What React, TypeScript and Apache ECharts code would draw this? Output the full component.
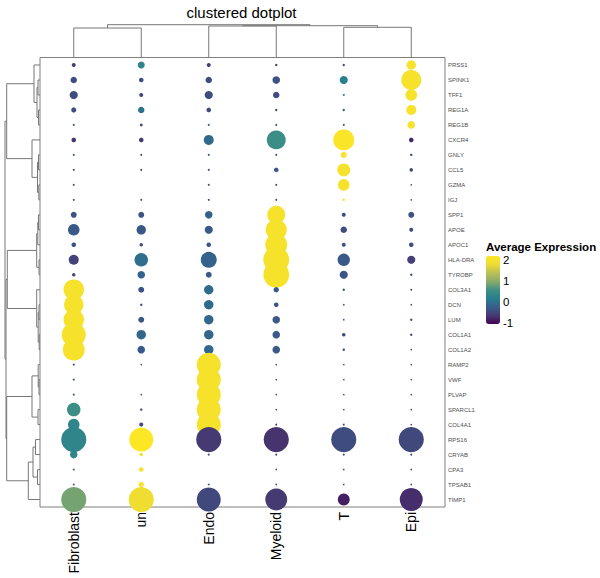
import React, { useEffect, useRef } from 'react';
import * as echarts from 'echarts';

const FONT = 'Liberation Sans, Arial, sans-serif';

const genes = [
  'PRSS1', 'SPINK1', 'TFF1', 'REG1A', 'REG1B', 'CXCR4', 'GNLY', 'CCL5', 'GZMA', 'IGJ',
  'SPP1', 'APOE', 'APOC1', 'HLA-DRA', 'TYROBP', 'COL3A1', 'DCN', 'LUM', 'COL1A1', 'COL1A2',
  'RAMP2', 'VWF', 'PLVAP', 'SPARCL1', 'COL4A1', 'RPS16', 'CRYAB', 'CPA3', 'TPSAB1', 'TIMP1',
];

const clusters = ['Fibroblast', 'un', 'Endo', 'Myeloid', 'T', 'Epi'];

// Average (scaled) expression, one row per gene, columns follow `clusters`
const avgExp: number[][] = [
  [-0.6, 0.3, -0.6, -0.6, -0.5, 2.04],
  [-0.45, -0.45, -0.45, -0.4, 0.2, 2.0],
  [-0.45, -0.5, -0.45, -0.45, -0.1, 2.0],
  [-0.45, 0.0, -0.5, -0.45, -0.3, 2.0],
  [-0.4, -0.4, -0.4, -0.4, -0.4, 2.0],
  [-0.7, -0.65, -0.1, 0.5, 2.1, -0.8],
  [-0.4, -0.4, -0.4, -0.4, 2.0, -0.4],
  [-0.45, -0.5, -0.45, -0.35, 2.0, -0.4],
  [-0.4, -0.4, -0.4, -0.4, 2.0, -0.4],
  [-0.4, -0.4, -0.4, -0.4, 2.0, -0.4],
  [-0.4, -0.35, -0.2, 2.0, -0.45, -0.4],
  [-0.3, -0.3, -0.3, 2.0, -0.45, -0.45],
  [-0.4, -0.45, -0.35, 2.0, -0.4, -0.4],
  [-0.55, -0.05, -0.2, 2.0, -0.3, -0.6],
  [-0.45, -0.2, -0.3, 2.0, -0.35, -0.45],
  [2.0, -0.4, -0.1, -0.3, -0.45, -0.45],
  [2.0, -0.45, -0.1, -0.35, -0.45, -0.45],
  [2.0, -0.35, -0.15, -0.3, -0.45, -0.4],
  [2.0, -0.15, -0.15, -0.3, -0.5, -0.45],
  [2.0, -0.3, -0.15, -0.3, -0.45, -0.45],
  [-0.4, -0.4, 2.0, -0.4, -0.4, -0.4],
  [-0.4, -0.4, 2.0, -0.4, -0.4, -0.4],
  [-0.4, -0.4, 2.0, -0.4, -0.4, -0.4],
  [0.5, -0.5, 2.0, -0.6, -0.55, -0.6],
  [0.3, -0.5, 2.0, -0.6, -0.55, -0.6],
  [0.3, 2.2, -0.65, -0.7, -0.45, -0.5],
  [0.3, 2.0, -0.5, -0.5, -0.5, -0.5],
  [-0.4, 2.0, -0.4, -0.4, -0.4, -0.4],
  [-0.4, 2.0, -0.4, -0.4, -0.4, -0.4],
  [0.85, 1.8, -0.5, -0.65, -0.85, -0.75],
];

// Percent expressed, one row per gene, columns follow `clusters`
const pctExp: number[][] = [
  [15, 26, 15, 9, 9, 35],
  [24, 17, 24, 28, 30, 74],
  [30, 15, 30, 24, 7, 43],
  [19, 24, 17, 9, 9, 37],
  [7, 11, 7, 7, 7, 28],
  [17, 17, 37, 70, 78, 17],
  [7, 7, 7, 7, 22, 9],
  [7, 7, 7, 17, 48, 13],
  [7, 0, 7, 7, 43, 6],
  [7, 7, 7, 7, 9, 6],
  [22, 22, 28, 67, 15, 22],
  [43, 35, 30, 78, 24, 15],
  [17, 13, 17, 81, 15, 17],
  [37, 50, 59, 96, 46, 30],
  [13, 28, 22, 96, 30, 9],
  [76, 22, 35, 20, 9, 7],
  [72, 9, 35, 17, 6, 6],
  [76, 22, 35, 28, 6, 9],
  [89, 35, 35, 28, 13, 9],
  [81, 28, 35, 28, 9, 6],
  [7, 6, 89, 6, 6, 6],
  [7, 0, 89, 6, 6, 6],
  [7, 6, 89, 6, 6, 6],
  [50, 9, 89, 6, 6, 6],
  [43, 15, 89, 7, 7, 6],
  [93, 89, 93, 93, 93, 93],
  [28, 13, 7, 7, 7, 7],
  [7, 17, 0, 6, 6, 6],
  [7, 20, 7, 6, 6, 6],
  [93, 93, 89, 81, 44, 85],
];

// hclust-style merges: negative = leaf (1-based, display order), positive = earlier merge (1-based); third = height
const rowMerge: [number, number, number][] = [
  [-4, -5, 1.5],
  [-2, -3, 2.0],
  [2, 1, 3.0],
  [-1, 3, 6.0],
  [-7, -8, 1.5],
  [-9, -10, 1.2],
  [5, 6, 2.5],
  [-6, 7, 8.0],
  [4, 8, 33.3],
  [-11, -12, 1.5],
  [10, -13, 2.2],
  [-14, -15, 1.0],
  [11, 12, 3.3],
  [-17, -18, 1.0],
  [-19, -20, 0.8],
  [14, 15, 1.8],
  [-16, 16, 3.3],
  [13, 17, 32.7],
  [-22, -23, 1.0],
  [-21, 19, 1.8],
  [-24, -25, 2.0],
  [20, 21, 8.0],
  [-26, -27, 4.5],
  [-28, -29, 2.5],
  [23, 24, 7.0],
  [25, -30, 11.7],
  [22, 26, 33.3],
  [18, 27, 34.0],
  [9, 28, 35.0],
];

const colMerge: [number, number, number][] = [
  [-1, -2, 29.5],
  [-3, -4, 31.5],
  [-5, -6, 30.2],
  [2, 3, 31.8],
  [1, 4, 32.8],
];

const legendTicks = [2, 1, 0, -1];
const colorMin = -1.06;
const colorMax = 2.18;
const colorStops = ['#440154', '#463A72', '#375E8C', '#277F8E', '#3F9084', '#8AAA6A', '#B9C056', '#EEDC33', '#FDE725'];

function dendroPaths(merge: [number, number, number][]) {
  const pos: number[] = [];
  const hts: number[] = [];
  const get = (ref: number): [number, number] => (ref < 0 ? [-ref - 1, 0] : [pos[ref - 1], hts[ref - 1]]);
  const paths: number[][][] = [];
  merge.forEach(([a, b, h], i) => {
    const [pa, ha] = get(a);
    const [pb, hb] = get(b);
    paths.push([[pa, ha], [pa, h], [pb, h], [pb, hb]]);
    pos[i] = (pa + pb) / 2;
    hts[i] = h;
  });
  return paths;
}

const MAIN = { left: 40, top: 57.5, width: 405, height: 449.5 };
const BAR = { left: 486, top: 256, width: 14, height: 68 };

function buildOption() {
  const scatterData: number[][] = [];
  genes.forEach((_, r) => {
    clusters.forEach((_, c) => {
      scatterData.push([c, r, avgExp[r][c], pctExp[r][c]]);
    });
  });

  const colPaths = dendroPaths(colMerge);
  const rowPaths = dendroPaths(rowMerge).map((p) => p.map(([pos, h]) => [h, pos]));

  const tickY = (v: number) => BAR.top + ((colorMax - v) / (colorMax - colorMin)) * BAR.height;

  const graphics: any[] = [
    {
      type: 'text',
      x: MAIN.left + MAIN.width / 2 - 1,
      y: 12.5,
      style: { text: 'clustered dotplot', fontSize: 15, fontFamily: FONT, fill: '#000', textAlign: 'center', textVerticalAlign: 'middle' },
    },
    {
      type: 'text',
      x: BAR.left,
      y: 246.5,
      style: { text: 'Average Expression', fontSize: 11.5, fontWeight: 'bold', fontFamily: FONT, fill: '#000', textAlign: 'left', textVerticalAlign: 'middle' },
    },
  ];
  legendTicks.forEach((t) => {
    const y = tickY(t);
    graphics.push({
      type: 'text',
      x: BAR.left + BAR.width + 3,
      y,
      style: { text: String(t), fontSize: 11.5, fontFamily: FONT, fill: '#000', textAlign: 'left', textVerticalAlign: 'middle' },
    });
    graphics.push({
      type: 'line',
      shape: { x1: BAR.left, y1: y, x2: BAR.left + 3, y2: y },
      style: { stroke: '#ffffff', lineWidth: 0.8 },
    });
    graphics.push({
      type: 'line',
      shape: { x1: BAR.left + BAR.width - 3, y1: y, x2: BAR.left + BAR.width, y2: y },
      style: { stroke: '#ffffff', lineWidth: 0.8 },
    });
  });

  const dendroLine = { color: '#777777', width: 1, opacity: 1 };

  return {
    animation: false,
    backgroundColor: '#ffffff',
    textStyle: { fontFamily: FONT },
    grid: [
      { ...MAIN, show: true, borderColor: '#7f7f7f', borderWidth: 1, backgroundColor: 'transparent' },
      { left: MAIN.left, top: 0, width: MAIN.width, height: MAIN.top, show: false },
      { left: 0, top: MAIN.top, width: MAIN.left, height: MAIN.height, show: false },
    ],
    xAxis: [
      {
        type: 'category',
        gridIndex: 0,
        data: clusters,
        boundaryGap: true,
        axisLine: { show: false },
        axisTick: { show: false },
        splitLine: { show: false },
        axisLabel: { rotate: 90, fontSize: 14, color: '#000', fontFamily: FONT, margin: 5 },
      },
      { type: 'value', gridIndex: 1, min: -0.5, max: clusters.length - 0.5, show: false, splitLine: { show: false } },
      { type: 'value', gridIndex: 2, min: 0, max: 40, inverse: true, show: false, splitLine: { show: false } },
    ],
    yAxis: [
      {
        type: 'category',
        gridIndex: 0,
        data: genes,
        inverse: true,
        position: 'right',
        boundaryGap: true,
        axisLine: { show: false },
        axisTick: { show: false },
        splitLine: { show: false },
        axisLabel: { fontSize: 6, color: '#4d4d4d', fontFamily: FONT, margin: 3 },
      },
      { type: 'value', gridIndex: 1, min: 0, max: MAIN.top, show: false, splitLine: { show: false } },
      { type: 'value', gridIndex: 2, min: -0.5, max: genes.length - 0.5, inverse: true, show: false, splitLine: { show: false } },
    ],
    visualMap: {
      type: 'continuous',
      min: colorMin,
      max: colorMax,
      dimension: 2,
      seriesIndex: 0,
      calculable: false,
      hoverLink: false,
      orient: 'vertical',
      left: BAR.left,
      top: BAR.top,
      itemWidth: BAR.width,
      itemHeight: BAR.height,
      padding: 0,
      text: undefined,
      inRange: { color: colorStops },
    },
    graphic: graphics,
    series: [
      {
        type: 'scatter',
        xAxisIndex: 0,
        yAxisIndex: 0,
        data: scatterData,
        symbol: 'circle',
        symbolSize: (v: number[]) => v[3] * 0.27,
        itemStyle: { opacity: 1 },
        silent: true,
      },
      {
        type: 'lines',
        coordinateSystem: 'cartesian2d',
        xAxisIndex: 1,
        yAxisIndex: 1,
        polyline: true,
        silent: true,
        lineStyle: dendroLine,
        data: colPaths.map((c) => ({ coords: c })),
      },
      {
        type: 'lines',
        coordinateSystem: 'cartesian2d',
        xAxisIndex: 2,
        yAxisIndex: 2,
        polyline: true,
        silent: true,
        lineStyle: dendroLine,
        data: rowPaths.map((c) => ({ coords: c })),
      },
    ],
  };
}

export default function App() {
  const ref = useRef<HTMLDivElement>(null);
  useEffect(() => {
    if (!ref.current) return;
    const chart = echarts.init(ref.current, null, { renderer: 'svg' });
    chart.setOption(buildOption() as any);
    return () => chart.dispose();
  }, []);
  return (
    <div
      ref={ref}
      style={{ position: 'fixed', left: 0, top: 0, width: 600, height: 578, background: '#fff' }}
    />
  );
}
